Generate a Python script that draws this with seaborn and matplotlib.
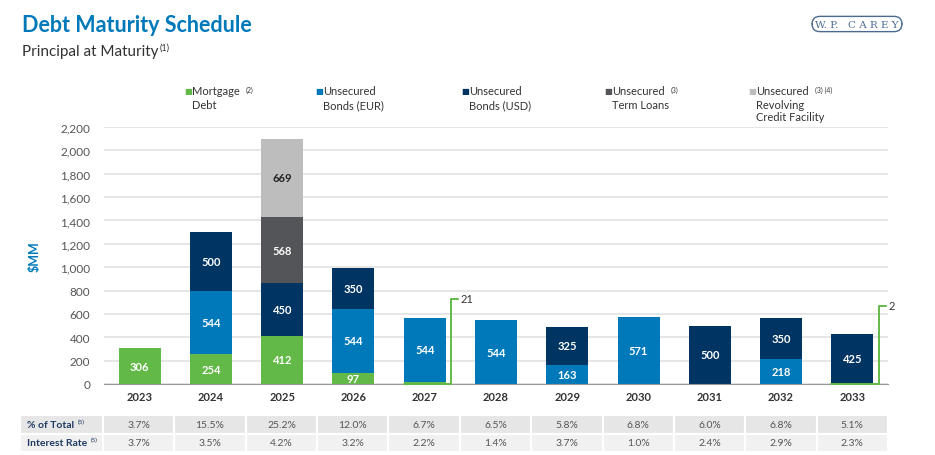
import numpy as np
import pandas as pd
import matplotlib.pyplot as plt
import seaborn as sns
from matplotlib.patches import Rectangle

years = ["2023", "2024", "2025", "2026", "2027", "2028",
         "2029", "2030", "2031", "2032", "2033"]

mortgage = [306, 254, 412, 97, 21, 0, 0, 0, 0, 0, 2]
bonds_eur = [0, 544, 0, 544, 544, 544, 163, 571, 0, 218, 0]
bonds_usd = [0, 500, 450, 350, 0, 0, 325, 0, 500, 350, 425]
term_loans = [0, 0, 568, 0, 0, 0, 0, 0, 0, 0, 0]
revolver = [0, 0, 669, 0, 0, 0, 0, 0, 0, 0, 0]

pct_total = ["3.7%", "15.5%", "25.2%", "12.0%", "6.7%", "6.5%",
             "5.8%", "6.8%", "6.0%", "6.8%", "5.1%"]
interest_rate = ["3.7%", "3.5%", "4.2%", "3.2%", "2.2%", "1.4%",
                 "3.7%", "1.0%", "2.4%", "2.9%", "2.3%"]

series = [
    ("Mortgage", "Debt", "(2)", mortgage, "#63B947"),
    ("Unsecured", "Bonds (EUR)", "", bonds_eur, "#0079BA"),
    ("Unsecured", "Bonds (USD)", "", bonds_usd, "#003463"),
    ("Unsecured", "Term Loans", "(3)", term_loans, "#545558"),
    ("Unsecured", "Revolving\nCredit Facility", "(3) (4)", revolver, "#BDBDBD"),
]

sns.set_style("white")
plt.rcParams["font.family"] = ["Lato", "DejaVu Sans"]

W, H = 935, 456
fig = plt.figure(figsize=(9.35, 4.56), dpi=100)
renderer = fig.canvas.get_renderer()


def px(x, y):
    return x / W, 1 - y / H


def sup_after(t, note, gap, dy, **kw):
    bb = t.get_window_extent(renderer)
    fig.text((bb.x1 + gap) / W, (bb.y1 - dy) / H, note, va="top", ha="left", **kw)


ax = fig.add_axes([104 / W, 71 / H, 784 / W, 257 / H])

bar_w = 0.59
bottom = np.zeros(len(years))
for l1, l2, note, vals, col in series:
    sns.barplot(x=years, y=vals, bottom=bottom, color=col, saturation=1,
                width=bar_w, linewidth=0, ax=ax)
    txt_col = "#222222" if col == "#BDBDBD" else "white"
    ax.bar_label(ax.containers[-1],
                 labels=[str(v) if v >= 50 else "" for v in vals],
                 label_type="center", color=txt_col, fontsize=8,
                 fontweight="bold")
    bottom = bottom + np.array(vals)

# callouts for small mortgage amounts
callout_top = {"2027": 728, "2033": 668}
for yr, top in callout_top.items():
    i = years.index(yr)
    x1 = i + bar_w / 2 + 0.08
    ax.plot([i - bar_w / 2, x1, x1, x1 + 0.09], [0, 0, top, top],
            color="#63B947", lw=1.4, clip_on=False, zorder=5)
    ax.text(x1 + 0.13, top, str(mortgage[i]), va="center", ha="left",
            fontsize=8, color="#333333")

ax.set_xlim(-0.5, 10.5)
ax.set_ylim(0, 2200)
ax.set_yticks(range(0, 2201, 200))
ax.set_yticklabels([f"{v:,}" for v in range(0, 2201, 200)],
                   fontsize=8.5, color="#555555")
ax.yaxis.grid(True, color="#E2E2E2", lw=1.2)
ax.set_axisbelow(True)
ax.tick_params(axis="y", length=0, pad=10)
ax.tick_params(axis="x", length=0, pad=5, labelsize=8, labelcolor="#333333")
for lab in ax.get_xticklabels():
    lab.set_fontweight("bold")
ax.set_xticks(np.arange(-0.5, 11, 1), minor=True)
ax.tick_params(axis="x", which="minor", length=3, color="#999999", width=1)
for s in ["top", "right", "left"]:
    ax.spines[s].set_visible(False)
ax.spines["bottom"].set_color("#999999")
ax.set_xlabel("")
ax.set_ylabel("$MM", color="#0079BA", fontsize=9, fontweight="bold",
              labelpad=14)

# legend
leg_x = [188, 319, 465, 608, 752]
for (l1, l2, note, vals, col), lx in zip(series, leg_x):
    fig.text(*px(lx, 92), "■", color=col, fontsize=6, va="center", ha="center")
    t = fig.text(*px(lx + 4, 92), l1, color="#333333", fontsize=8,
                 va="center", ha="left")
    fig.text(*px(lx + 4, 100), l2, color="#333333", fontsize=8,
             va="top", ha="left", linespacing=1.15)
    if note:
        sup_after(t, note, 6, 0, color="#333333", fontsize=5)

# titles and logo
fig.text(*px(22, 25), "Debt Maturity Schedule", color="#0079BA",
         fontsize=15.5, fontweight="bold", va="center", ha="left")
t = fig.text(*px(22, 52), "Principal at Maturity", color="#333333",
             fontsize=11, va="center", ha="left")
sup_after(t, "(1)", 1, -1, color="#333333", fontsize=6.5)
fig.text(*px(857, 25), "W. P.   C A R E Y", color="#4B6A92",
         fontsize=7.5, va="center", ha="center", family="DejaVu Serif",
         bbox=dict(boxstyle="round,pad=0.3,rounding_size=0.75",
                   fc="white", ec="#4B6A92", lw=1))

# table
tx = fig.add_axes([20 / W, 3 / H, 868 / W, 37 / H])
lab_w = 83 / 71.3
tx.set_xlim(-0.5 - lab_w, 10.5)
tx.set_ylim(2, 0)
tx.axis("off")
rows = [("% of Total", pct_total, "#E6E6E6"),
        ("Interest Rate", interest_rate, "#F1F1F1")]
for r, (rname, vals, bg) in enumerate(rows):
    tx.add_patch(Rectangle((-0.5 - lab_w, r), lab_w, 1, fc=bg,
                           ec="white", lw=1.5))
    t = tx.text(-0.5 - lab_w + 0.1, r + 0.5, rname, color="#1F3A60",
                fontsize=7.5, fontweight="bold", va="center", ha="left")
    sup_after(t, "(5)", 3, -1, color="#1F3A60", fontsize=4.5)
    for i, v in enumerate(vals):
        tx.add_patch(Rectangle((i - 0.5, r), 1, 1, fc=bg, ec="white", lw=1.5))
        tx.text(i, r + 0.5, v, color="#555555", fontsize=7.5,
                va="center", ha="center")

fig.savefig("out.png", dpi=100)
